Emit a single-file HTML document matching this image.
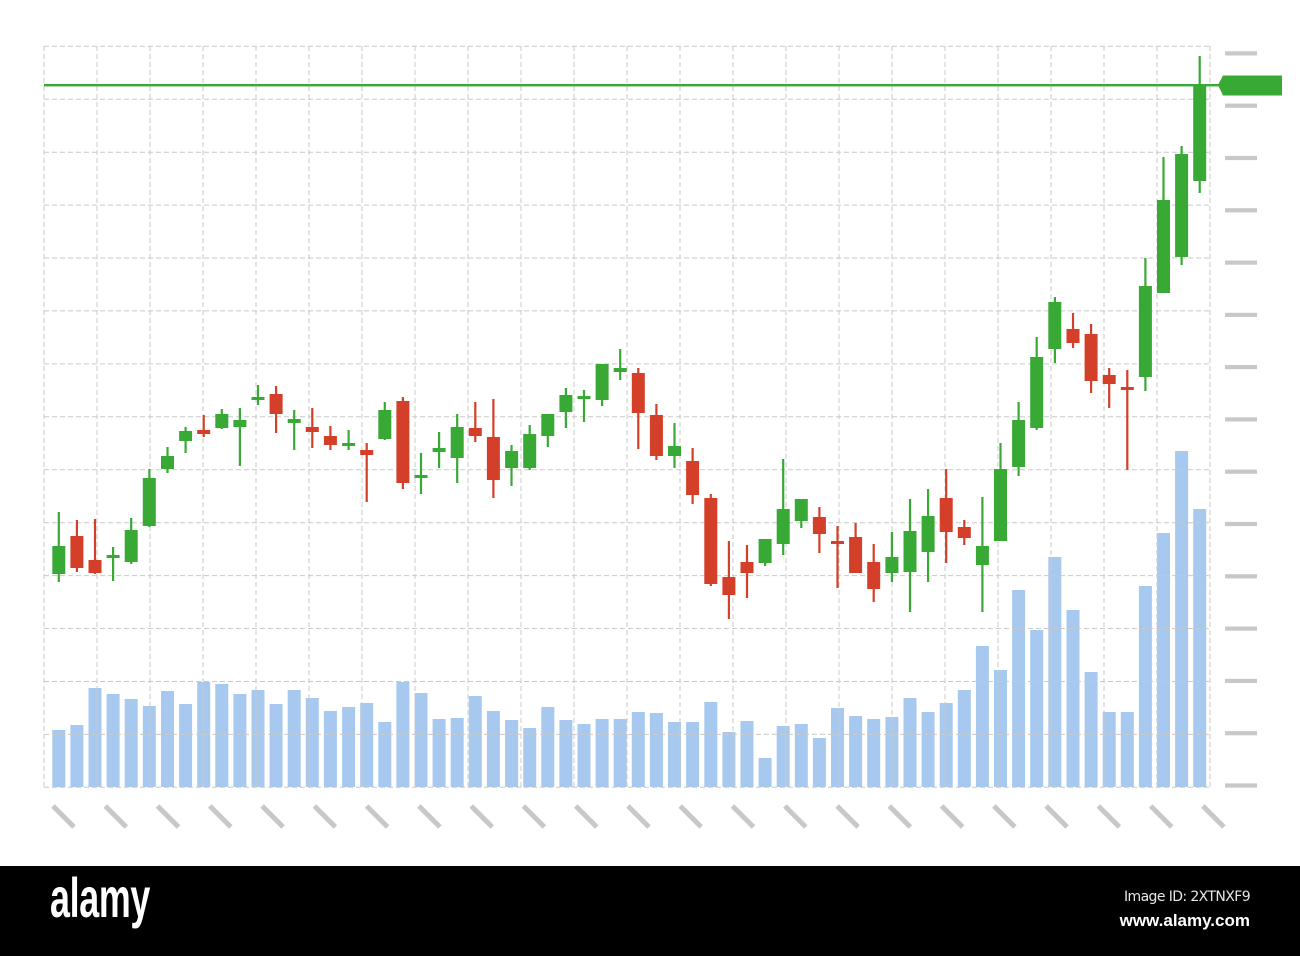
<!DOCTYPE html>
<html><head><meta charset="utf-8">
<style>
html,body{margin:0;padding:0;background:#fff;}
body{width:1300px;height:956px;position:relative;overflow:hidden;font-family:"Liberation Sans",sans-serif;}
#footer{position:absolute;left:0;top:866px;width:1300px;height:90px;background:#000;}
#logo{position:absolute;left:50px;top:870px;font-family:"Liberation Sans",sans-serif;font-weight:bold;font-size:56px;color:#fff;transform:scaleX(0.64);transform-origin:0 0;line-height:1;letter-spacing:-0.5px;}
#imgid{position:absolute;right:50px;top:889px;font-size:14px;color:#e6e6e6;font-family:"DejaVu Sans",sans-serif;letter-spacing:-0.6px;}
#www{position:absolute;right:50px;top:911px;font-size:17px;font-weight:bold;color:#fff;font-family:"Liberation Sans",sans-serif;}
</style></head>
<body>
<svg id="chart" width="1300" height="866" style="position:absolute;left:0;top:0"></svg>
<div id="footer"></div>
<div id="logo">alamy</div>
<div id="imgid">Image ID: 2XTNXF9</div>
<div id="www">www.alamy.com</div>
<script>
(function(){
var NS="http://www.w3.org/2000/svg";
var svg=document.getElementById("chart");
function el(t,a){var e=document.createElementNS(NS,t);for(var k in a)e.setAttribute(k,a[k]);svg.appendChild(e);return e;}
var G="#39a935",R="#d33f28",B="#a7c9ef",GR="#c9c9c9";
var vol=[730,725,688,694,699,706,691,704,682,684,694,690,704,690,698,711,707,703,722,682,693,719,718,696,711,720,728,707,720,724,719,719,712,713,722,722,702,732,721,758,726,724,738,708,716,719,717,698,712,703,690,646,670,590,630,557,610,672,712,712,586,533,451,509];
for(var k=0;k<vol.length;k++){
  var x=52.3+18.11*k;
  el("rect",{x:x.toFixed(1),y:vol[k],width:13,height:787-vol[k],fill:B});
}
// grid
for(var i=0;i<=22;i++){
  var gx=44+53*i;
  el("line",{x1:gx,y1:46,x2:gx,y2:787,stroke:GR,"stroke-width":1,"stroke-dasharray":"5,3"});
}
for(var j=0;j<=14;j++){
  var gy=46.3+52.93*j;
  el("line",{x1:44,y1:gy.toFixed(1),x2:1210,y2:gy.toFixed(1),stroke:GR,"stroke-width":1,"stroke-dasharray":"5,3"});
}
// candles: color, bodyTop, bodyBot, wickTop, wickBot
var c=[
["g",546,574,512,582],["r",536,568,520,572],["r",560,573,519,574],["g",555,558,547,581],["g",530,562,518,564],
["g",478,526,469,527],["g",456,469,447,473],["g",431,441,427,453],["r",430,434,415,437],["g",414,428,409,429],
["g",420,427,408,466],["g",397,400,385,405],["r",394,414,386,433],["g",419,423,410,450],["r",427,432,408,448],
["r",436,445,426,450],["g",443,446,430,450],["r",450,455,443,502],["g",410,439,402,440],["r",401,483,397,489],
["g",475,478,453,494],["g",448,452,432,468],["g",427,458,414,483],["r",428,436,402,442],["r",437,480,399,498],
["g",451,468,445,486],["g",434,468,425,470],["g",414,436,414,447],["g",395,412,388,428],["g",396,399,390,422],
["g",364,400,364,406],["g",368,372,349,380],["r",373,413,368,449],["r",415,456,404,460],["g",446,456,423,468],
["r",461,495,448,504],["r",498,584,494,586],["r",577,595,541,619],["r",562,573,545,598],["g",539,563,539,566],
["g",509,544,459,555],["g",499,521,499,528],["r",517,534,507,553],["r",541,543,526,588],["r",537,573,523,573],
["r",562,589,544,602],["g",557,573,532,582],["g",531,572,499,612],["g",516,552,489,582],["r",498,532,469,563],
["r",527,538,520,545],["g",546,565,497,612],["g",469,541,443,541],["g",420,467,402,476],["g",357,428,337,430],
["g",302,349,297,363],["r",329,343,313,348],["r",334,381,324,393],["r",375,384,368,408],["r",387,389,370,470],
["g",286,377,258,391],["g",200,293,157,293],["g",154,257,146,265],["g",84,181,56,193]
];
for(var k=0;k<c.length;k++){
  var d=c[k],cx=58.8+18.11*k,col=d[0]=="g"?G:R;
  el("rect",{x:(cx-1.1).toFixed(1),y:d[3],width:2.2,height:d[4]-d[3],fill:col});
  var h=Math.max(d[2]-d[1],3);
  el("rect",{x:(cx-6.5).toFixed(1),y:d[1],width:13,height:h,fill:col});
}
// green price line and tag
el("rect",{x:44,y:84,width:1176,height:2.4,fill:G});
el("polygon",{points:"1218,85 1223,75.5 1282,75.5 1282,95.5 1223,95.5",fill:G});
// right ticks
for(var t=0;t<15;t++){
  var ty=53.3+52.29*t;
  if(t==0||true) el("rect",{x:1225,y:(ty-2).toFixed(1),width:32,height:4.2,fill:"#c8c8c8"});
}
// bottom diagonal ticks
for(var b=0;b<23;b++){
  var bx=52+52.27*b;
  el("line",{x1:(bx+1).toFixed(1),y1:806,x2:(bx+22).toFixed(1),y2:827,stroke:"#c8c8c8","stroke-width":5,"stroke-linecap":"butt"});
}
})();
</script>
</body></html>
